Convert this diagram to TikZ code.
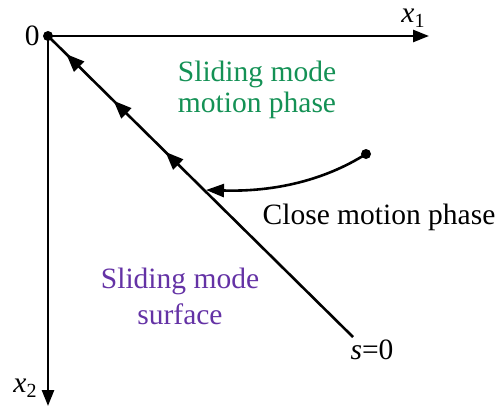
\documentclass[tikz,border=0pt]{standalone}
\usepackage{fontspec}
\setmainfont{LiberationSerif}[Extension=.ttf,UprightFont=*-Regular,ItalicFont=*-Italic,BoldFont=*-Bold,BoldItalicFont=*-BoldItalic]
\usetikzlibrary{positioning,arrows.meta,decorations.markings}

\definecolor{phasegreen}{RGB}{20,145,85}
\definecolor{surfpurple}{RGB}{100,50,165}
\newcommand{\axlab}[2]{\textit{#1}\raisebox{-0.35ex}{\fontsize{20}{20}\selectfont #2}}

\begin{document}
\begin{tikzpicture}[x=1pt,y=-1pt,
  axis/.style={line width=2.6pt,-{Triangle[length=16pt,width=12pt]}},
  trail/.style={line width=2.6pt},
  lbl/.style={font=\fontsize{29.5}{30}\selectfont,inner sep=1pt},
  dotmark/.style={circle,fill,inner sep=0pt,minimum size=10pt},
  headmark/.style={decoration={markings,
    mark=at position 0.615 with {\arrow{Triangle[length=18pt,width=14pt]}},
    mark=at position 0.785 with {\arrow{Triangle[length=18pt,width=14pt]}},
    mark=at position 0.94 with {\arrow{Triangle[length=18pt,width=14pt]}}},
    postaction={decorate}}]
  \useasboundingbox (0,0) rectangle (500,412);

  % --- Origin and axes ---
  \node[dotmark] (O) at (48,36) {};
  \coordinate (X1) at (429,36);
  \coordinate (X2) at (48,406);
  \draw[axis] (O.center) -- (X1);
  \draw[axis] (O.center) -- (X2);
  \node[lbl] (zero) [left=2pt of O] {0};
  \node[lbl] (x1lab) at (413,18) {\axlab{x}{1}};
  \node[lbl] (x2lab) at (25,388) {\axlab{x}{2}};

  % --- Sliding surface s=0 ---
  \coordinate (S) at (353,337);
  \draw[trail,headmark] (S) -- (O.center);
  \node[lbl] (slab) at (372,350) {\textit{s}=0};

  % --- Approach trajectory ---
  \node[dotmark] (P) at (366,154) {};
  \coordinate (T) at (206,190);
  \draw[trail,-{Triangle[length=18pt,width=13pt]}] (P.center) .. controls (325,180) and (275,192) .. (T);

  % --- Region labels ---
  \node[lbl,text=phasegreen,align=center] (motion) at (257,90)
    {Sliding mode\\[1pt]motion phase};
  \node[lbl] (close) at (379,217) {Close motion phase};
  \node[lbl,text=surfpurple,align=center] (surface) at (180,296)
    {Sliding mode\\[6pt]surface};
\end{tikzpicture}
\end{document}
